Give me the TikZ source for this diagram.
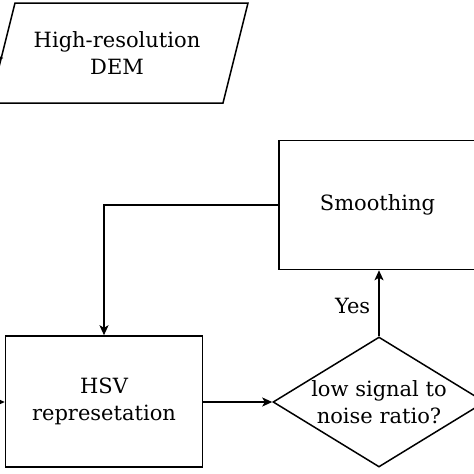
\documentclass[tikz,border=0pt]{standalone}
\usepackage{fontspec}
\setmainfont{DejaVu Serif}
\usetikzlibrary{arrows.meta,shapes.geometric}
\begin{document}
\begin{tikzpicture}[x=1pt,y=-1pt,
  line width=1.5pt,
  font=\fontsize{21}{27.5}\selectfont,
  arr/.style={-{Stealth[length=10pt,width=9pt,inset=2.5pt]}},
  procbox/.style={draw,rectangle,inner sep=0pt,align=center},
  decbox/.style={draw,diamond,inner sep=0pt,align=center,aspect=1.63},
  txt/.style={align=center,inner sep=0pt}]
\useasboundingbox (0,0) rectangle (474,474);
\clip (0,0) rectangle (474,474);
% parallelogram (input)
\coordinate (p1) at (15,3);
\coordinate (p2) at (248,3);
\coordinate (p3) at (223,103);
\coordinate (p4) at (-10,103);
\draw (p1) -- (p2) -- (p3) -- (p4) -- cycle;
\node[txt] (dem) at (117,53) {High-resolution\\DEM};
\coordinate (demin) at (3.5,58);
\coordinate (demsrc) at (-20,58);
\draw[arr] (demsrc) -- (demin);
% HSV box
\node[procbox,minimum width=197pt,minimum height=131pt] (hsv) at (104,401.5) {HSV\\represetation};
\coordinate (hsvsrc) at (-20,402);
\draw[arr] (hsvsrc) -- (hsv.west |- hsvsrc);
% decision
\node[decbox,minimum width=212pt,minimum height=130pt] (dec) at (379,402) {low signal to\\noise ratio?};
\draw[arr] (hsv.east |- dec.west) -- (dec.west);
% smoothing
\node[procbox,minimum width=197pt,minimum height=129pt] (smooth) at (377.5,205) {Smoothing};
\draw[arr] (dec.north) -- node[left,txt,xshift=-8pt,yshift=-3pt] (yes) {Yes} (dec.north |- smooth.south);
\draw[arr] (smooth.west) -| (hsv.north);
\end{tikzpicture}
\end{document}
